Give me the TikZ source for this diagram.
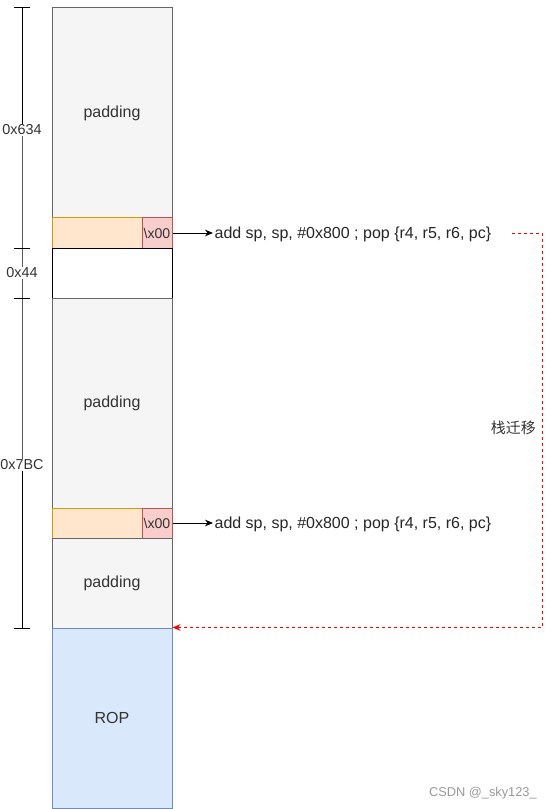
\documentclass[tikz,border=0pt]{standalone}
\usepackage{fontspec}
\setmainfont{Liberation Sans}
\newfontfamily\cjk{Noto Sans CJK SC}
\usetikzlibrary{arrows.meta}
\definecolor{padfill}{HTML}{F5F5F5}
\definecolor{padline}{HTML}{666666}
\definecolor{orfill}{HTML}{FFE6CC}
\definecolor{orline}{HTML}{D79B00}
\definecolor{rdfill}{HTML}{F8CECC}
\definecolor{rdline}{HTML}{B85450}
\definecolor{blfill}{HTML}{DAE8FC}
\definecolor{blline}{HTML}{6C8EBF}
\definecolor{txtgray}{HTML}{333333}
\definecolor{wmgray}{HTML}{999999}
\definecolor{dashred}{HTML}{FF0000}
\tikzset{
  cell/.style={draw, line width=0.75pt, inner sep=0pt, minimum width=#1},
  padcell/.style={cell=90pt, fill=padfill, draw=padline, text=txtgray, font=\fontsize{12}{14}\selectfont},
  orcell/.style={cell=67.5pt, fill=orfill, draw=orline, minimum height=22.5pt},
  rdcell/.style={cell=22.5pt, fill=rdfill, draw=rdline, minimum height=22.5pt, font=\fontsize{10.6}{12}\selectfont, text=txtgray},
  dimlabel/.style={fill=white, inner sep=1pt, text=txtgray, font=\fontsize{10.8}{12}\selectfont},
  asm/.style={anchor=west, inner sep=1pt, font=\fontsize{12}{14}\selectfont, text=black!85},
  dimline/.style={line width=0.75pt, black},
  arr/.style={line width=0.75pt, -{Stealth[length=6pt,width=5pt]}},
}
\begin{document}
\begin{tikzpicture}[x=0.75pt, y=-0.75pt]
\useasboundingbox (0,0) rectangle (551,809);
% column
\node[padcell, minimum height=157.5pt] (pad1) at (112,113) {padding};
\node[orcell] (or1) at (97,233) {};
\node[rdcell] (rd1) at (157,233) {\textbackslash x00};
\node[cell=90pt, draw=black, fill=white, minimum height=37.5pt] (gap) at (112,273) {};
\node[padcell, minimum height=157.5pt] (pad2) at (112,403) {padding};
\node[orcell] (or2) at (97,523) {};
\node[rdcell] (rd2) at (157,523) {\textbackslash x00};
\node[padcell, minimum height=67.5pt] (pad3) at (112,583) {padding};
\node[cell=90pt, fill=blfill, draw=blline, minimum height=135pt, text=txtgray, font=\fontsize{12}{14}\selectfont] (rop) at (112,718) {ROP};
% dimension lines
\coordinate (d0) at (22,8);
\coordinate (d1) at (22,248);
\coordinate (d2) at (22,298);
\coordinate (d3) at (22,628);
\draw[dimline] (d0) -- (d1) -- (d2) -- (d3);
\foreach \p in {d0,d1,d2,d3} \draw[dimline] ([xshift=-6]\p) -- ([xshift=6]\p);
\node[dimlabel] (l1) at (22,130) {0x634};
\node[dimlabel] (l2) at (22,273) {0x44};
\node[dimlabel] (l3) at (22,465) {0x7BC};
% gadgets
\node[asm] (asm1) at (213,234) {add sp, sp, \#0x800 ; pop \{r4, r5, r6, pc\}};
\node[asm] (asm2) at (213,524) {add sp, sp, \#0x800 ; pop \{r4, r5, r6, pc\}};
\draw[arr] (rd1.east) -- (asm1.west |- rd1.east);
\draw[arr] (rd2.east) -- (asm2.west |- rd2.east);
% stack pivot
\coordinate (dstart) at (512,233);
\draw[line width=0.75pt, dashred, dash pattern=on 2.25pt off 2.25pt, -{Stealth[length=6pt,width=5pt]}] (dstart) -- ++(30,0) |- (rop.north east);
\node[anchor=east, inner sep=0pt, font=\cjk\fontsize{11.2}{13}\selectfont, text=txtgray] (pivot) at (536,428) {栈迁移};
% watermark
\node[anchor=east, inner sep=0pt, font=\fontsize{9.6}{11}\selectfont, text=wmgray] (wm) at (537,793) {CSDN @\_sky123\_};
\end{tikzpicture}
\end{document}
